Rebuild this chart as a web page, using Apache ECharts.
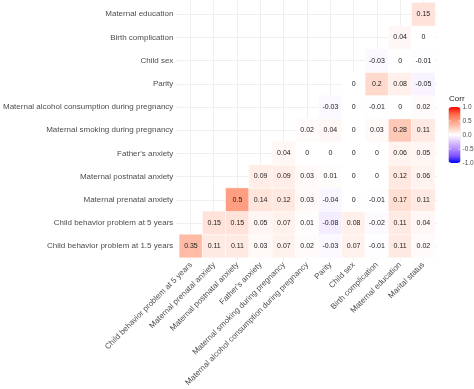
<!DOCTYPE html>
<html>
<head>
<meta charset="utf-8">
<script src="https://cdn.jsdelivr.net/npm/echarts@6/dist/echarts.min.js"></script>
<style>
html,body{margin:0;padding:0;background:#fff;}
#chart{width:474px;height:389px;}
</style>
</head>
<body>
<div id="chart"></div>
<script>
// x categories (left to right)
const xCategories = [
  "Child behavior problem at 5 years",
  "Maternal prenatal anxiety",
  "Maternal postnatal anxiety",
  "Father's anxiety",
  "Maternal smoking during pregnancy",
  "Maternal alcohol consumption during pregnancy",
  "Parity",
  "Child sex",
  "Birth complication",
  "Maternal education",
  "Marital status"
];
// y categories (bottom to top)
const yCategories = [
  "Child behavior problem at 1.5 years",
  "Child behavior problem at 5 years",
  "Maternal prenatal anxiety",
  "Maternal postnatal anxiety",
  "Father's anxiety",
  "Maternal smoking during pregnancy",
  "Maternal alcohol consumption during pregnancy",
  "Parity",
  "Child sex",
  "Birth complication",
  "Maternal education"
];
// correlation rows (one per y category, values per x category; null = empty)
const rowChildBehavior15 = [0.35, 0.11, 0.11, 0.03, 0.07, 0.02, -0.03, 0.07, -0.01, 0.11, 0.02];
const rowChildBehavior5  = [null, 0.15, 0.15, 0.05, 0.07, 0.01, -0.08, 0.08, -0.02, 0.11, 0.04];
const rowPrenatalAnxiety = [null, null, 0.5, 0.14, 0.12, 0.03, -0.04, 0, -0.01, 0.17, 0.11];
const rowPostnatalAnxiety= [null, null, null, 0.09, 0.09, 0.03, 0.01, 0, 0, 0.12, 0.06];
const rowFatherAnxiety   = [null, null, null, null, 0.04, 0, 0, 0, 0, 0.06, 0.05];
const rowSmoking         = [null, null, null, null, null, 0.02, 0.04, 0, 0.03, 0.28, 0.11];
const rowAlcohol         = [null, null, null, null, null, null, -0.03, 0, -0.01, 0, 0.02];
const rowParity          = [null, null, null, null, null, null, null, 0, 0.2, 0.08, -0.05];
const rowChildSex        = [null, null, null, null, null, null, null, null, -0.03, 0, -0.01];
const rowBirthComp       = [null, null, null, null, null, null, null, null, null, 0.04, 0];
const rowMatEducation    = [null, null, null, null, null, null, null, null, null, null, 0.15];
const legendTicks = ["1.0", "0.5", "0.0", "-0.5", "-1.0"];

const rows = [rowChildBehavior15, rowChildBehavior5, rowPrenatalAnxiety, rowPostnatalAnxiety,
  rowFatherAnxiety, rowSmoking, rowAlcohol, rowParity, rowChildSex, rowBirthComp, rowMatEducation];
const cells = [];
rows.forEach((r, yi) => r.forEach((v, xi) => { if (v !== null) cells.push([xi, yi, v]); }));

const FONT = "'Liberation Sans', Arial, sans-serif";
const chart = echarts.init(document.getElementById('chart'), null, {renderer: 'canvas'});

// plot panel geometry
const G = {left: 178.7, top: 2.7, width: 256.3, height: 255.2};
const cw = G.width / xCategories.length, ch = G.height / yCategories.length;
const pad = 2.4;

const barTop = 107, barH = 56, barLeft = 448.5, barW = 12;
const graphics = [{
  type: 'text', left: 449, top: 95,
  style: {text: 'Corr', font: '8px ' + FONT, fill: '#222'}
}];
legendTicks.forEach((t, i) => {
  const y = barTop + barH * i / (legendTicks.length - 1);
  graphics.push({type: 'text', x: 462.5, y: y, style: {text: t, font: '6.5px ' + FONT, fill: '#4D4D4D', textVerticalAlign: 'middle'}});
  graphics.push({type: 'line', shape: {x1: barLeft, y1: y, x2: barLeft + 2.5, y2: y}, style: {stroke: '#fff', lineWidth: 0.6}, z: 100});
  graphics.push({type: 'line', shape: {x1: barLeft + barW - 2.5, y1: y, x2: barLeft + barW, y2: y}, style: {stroke: '#fff', lineWidth: 0.6}, z: 100});
});

const gridLine = {show: true, lineStyle: {color: '#EBEBEB', width: 0.8}};
const hiddenAxisBase = {axisLine: {show: false}, axisTick: {show: false}, axisLabel: {show: false}};

chart.setOption({
  animation: false,
  backgroundColor: '#fff',
  textStyle: {fontFamily: FONT},
  grid: [
    {left: G.left, top: G.top, width: G.width, height: G.height, containLabel: false},
    // grid for vertical gridlines through column centres
    {left: G.left + cw / 2, top: G.top - pad, width: G.width - cw, height: G.height + 2 * pad},
    // grid for horizontal gridlines through row centres
    {left: G.left - pad, top: G.top + ch / 2, width: G.width + 2 * pad, height: G.height - ch}
  ],
  xAxis: [{
    type: 'category', data: xCategories, gridIndex: 0, position: 'bottom',
    axisLine: {show: false}, axisTick: {show: false}, splitLine: {show: false},
    axisLabel: {rotate: 45, fontSize: 8, color: '#4D4D4D', margin: 6, interval: 0, fontFamily: FONT}
  }, Object.assign({
    type: 'value', gridIndex: 1, min: 0, max: xCategories.length - 1, interval: 1, splitLine: gridLine
  }, hiddenAxisBase), Object.assign({
    type: 'value', gridIndex: 2, min: 0, max: 1, splitLine: {show: false}
  }, hiddenAxisBase)],
  yAxis: [{
    type: 'category', data: yCategories, gridIndex: 0, position: 'left',
    axisLine: {show: false}, axisTick: {show: false}, splitLine: {show: false},
    axisLabel: {fontSize: 8, color: '#4D4D4D', margin: 6, interval: 0, fontFamily: FONT}
  }, Object.assign({
    type: 'value', gridIndex: 1, min: 0, max: 1, splitLine: {show: false}
  }, hiddenAxisBase), Object.assign({
    type: 'value', gridIndex: 2, min: 0, max: yCategories.length - 1, interval: 1, splitLine: gridLine
  }, hiddenAxisBase)],
  visualMap: {
    type: 'continuous', min: -1, max: 1, calculable: false, orient: 'vertical',
    left: barLeft, top: barTop, itemWidth: barW, itemHeight: barH, padding: 0,
    seriesIndex: 0, hoverLink: false,
    inRange: {color: ['#0000FF', '#7E51FF', '#B38BFF', '#DCC4FF', '#FFFFFF', '#FFCFBF', '#FF9E81', '#FF6846', '#FF0000']}
  },
  graphic: graphics,
  series: [{
    type: 'heatmap', xAxisIndex: 0, yAxisIndex: 0, data: cells, z: 5,
    itemStyle: {borderColor: '#fff', borderWidth: 0.5},
    label: {show: true, fontSize: 7, color: '#222', fontFamily: FONT,
      formatter: p => String(p.value[2])},
    emphasis: {disabled: true}
  }]
});
</script>
</body>
</html>
